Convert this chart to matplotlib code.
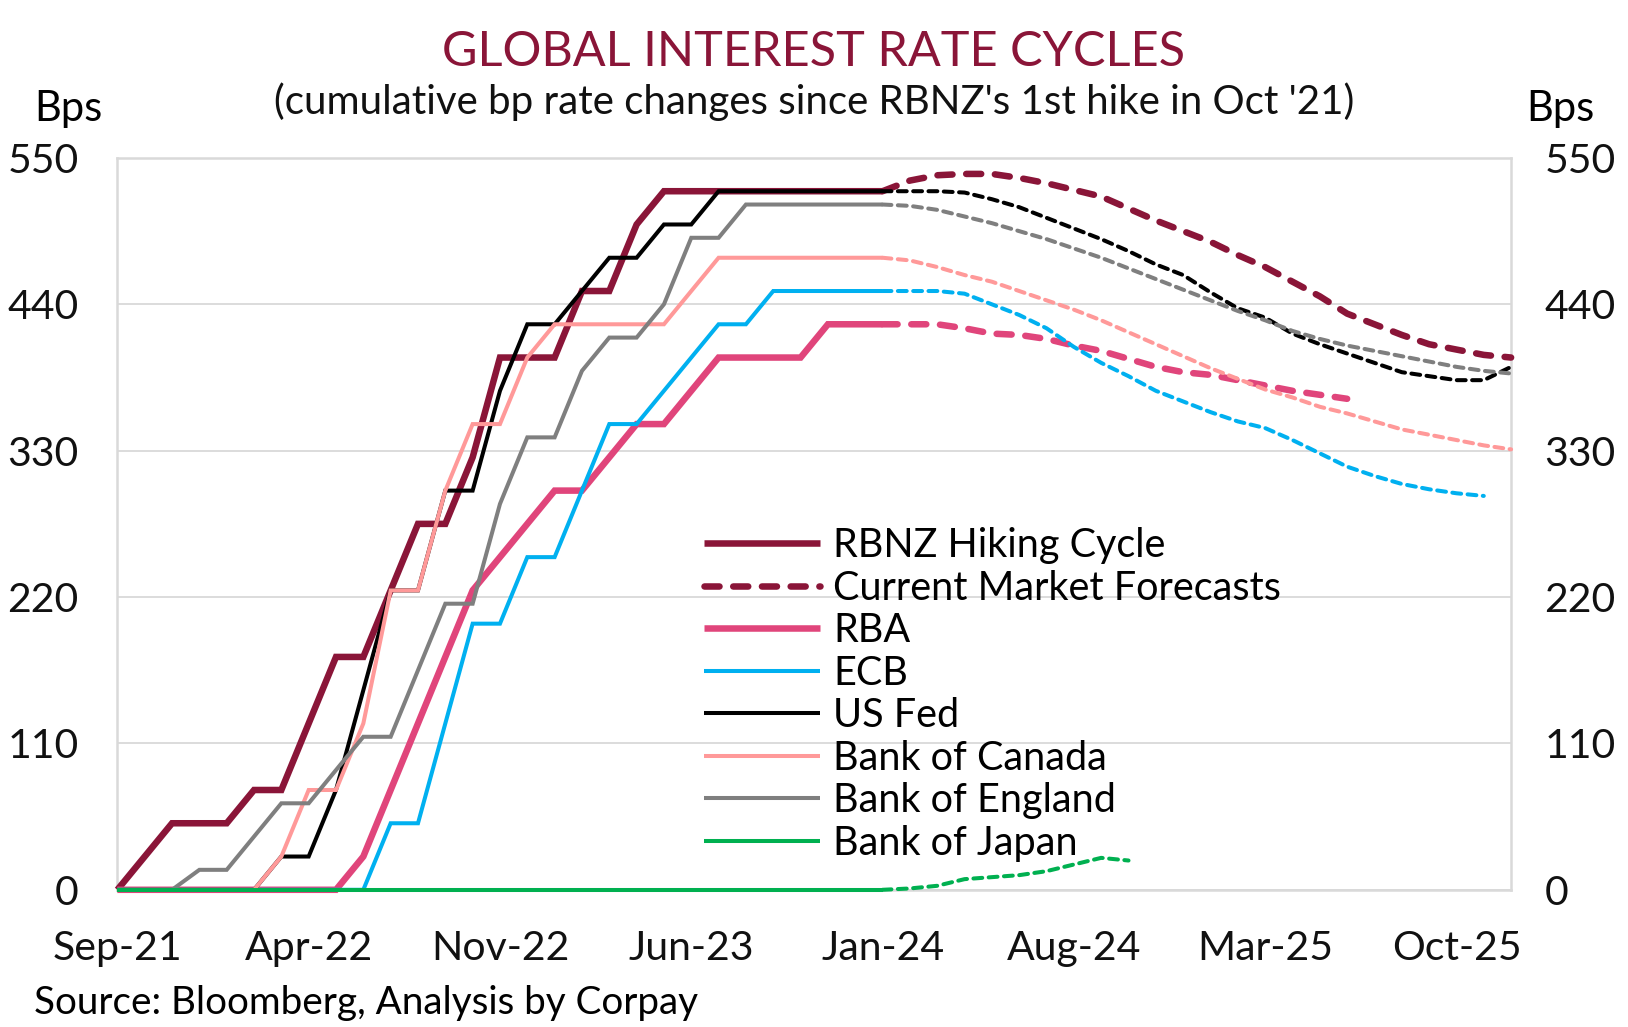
import matplotlib
matplotlib.use("Agg")
import matplotlib.pyplot as plt
import numpy as np

plt.rcParams['font.family'] = ['Lato', 'DejaVu Sans']

# month index 0 = Sep-21 ... 51 = Dec-25
tick_pos = [0, 7, 14, 21, 28, 35, 42, 49]
tick_labels = ['Sep-21', 'Apr-22', 'Nov-22', 'Jun-23', 'Jan-24', 'Aug-24', 'Mar-25', 'Oct-25']

# actual cumulative changes, Sep-21 .. Jan-24 (29 months)
rbnz = [0, 25, 50, 50, 50, 75, 75, 125, 175, 175, 225, 275, 275, 325, 400, 400, 400,
        450, 450, 500, 525, 525, 525, 525, 525, 525, 525, 525, 525]
rba = [0, 0, 0, 0, 0, 0, 0, 0, 0, 25, 75, 125, 175, 225, 250, 275, 300, 300, 325,
       350, 350, 375, 400, 400, 400, 400, 425, 425, 425]
ecb = [0, 0, 0, 0, 0, 0, 0, 0, 0, 0, 50, 50, 125, 200, 200, 250, 250, 300, 350,
       350, 375, 400, 425, 425, 450, 450, 450, 450, 450]
fed = [0, 0, 0, 0, 0, 0, 25, 25, 75, 150, 225, 225, 300, 300, 375, 425, 425, 450,
       475, 475, 500, 500, 525, 525, 525, 525, 525, 525, 525]
boc = [0, 0, 0, 0, 0, 0, 25, 75, 75, 125, 225, 225, 300, 350, 350, 400, 425, 425,
       425, 425, 425, 450, 475, 475, 475, 475, 475, 475, 475]
boe = [0, 0, 0, 15, 15, 40, 65, 65, 90, 115, 115, 165, 215, 215, 290, 340, 340,
       390, 415, 415, 440, 490, 490, 515, 515, 515, 515, 515, 515]
boj = [0] * 29

# market forecasts from Jan-24 (month 28) onwards
rbnz_fc = [525, 533, 537, 538, 538, 535, 531, 526, 521, 512, 503, 495, 487, 477,
           468, 457, 446, 433, 425, 417, 410, 406, 402, 400]
rba_fc = [425, 425, 425, 422, 418, 417, 414, 409, 405, 399, 393, 389, 387, 383,
          379, 375, 372, 369]
ecb_fc = [450, 450, 450, 448, 440, 432, 422, 408, 396, 386, 375, 367, 359, 352,
          347, 338, 328, 318, 311, 305, 301, 298, 296]
fed_fc = [525, 525, 525, 524, 519, 513, 505, 497, 489, 480, 470, 462, 449, 437,
          430, 418, 410, 403, 396, 389, 386, 383, 383, 393]
boc_fc = [475, 473, 468, 462, 457, 450, 443, 436, 428, 419, 410, 401, 392, 384,
          376, 370, 363, 358, 352, 346, 342, 338, 334, 331]
boe_fc = [515, 514, 511, 506, 501, 495, 489, 482, 475, 467, 459, 451, 443, 435,
          428, 420, 414, 409, 405, 401, 397, 393, 390, 388]
boj_fc = [0, 1, 3, 8, 9.5, 11, 14, 19, 24, 22]

c_rbnz = '#8A1538'
c_rba = '#E0457B'
c_ecb = '#00B0F0'
c_fed = '#000000'
c_boc = '#FF9999'
c_boe = '#7F7F7F'
c_boj = '#00B050'

fig = plt.figure(figsize=(16.28, 10.27), dpi=100)
ax = fig.add_axes([0.0721, 0.1336, 0.8561, 0.7126])

thick = 4.7
thin = 2.9
start = 28

series = [
    (rbnz, rbnz_fc, c_rbnz, thick, 'RBNZ Hiking Cycle'),
    (rba, rba_fc, c_rba, thick, 'RBA'),
    (ecb, ecb_fc, c_ecb, thin, 'ECB'),
    (fed, fed_fc, c_fed, thin, 'US Fed'),
    (boc, boc_fc, c_boc, thin, 'Bank of Canada'),
    (boe, boe_fc, c_boe, thin, 'Bank of England'),
    (boj, boj_fc, c_boj, thin, 'Bank of Japan'),
]

handles = {}
for actual, fc, col, lw, name in series:
    h, = ax.plot(np.arange(len(actual)), actual, color=col, lw=lw, clip_on=False,
                 solid_joinstyle='miter', solid_capstyle='butt')
    handles[name] = h
    if lw == thick:
        dash = (0, (2.3, 2.1))
    else:
        dash = (0, (2.2, 1.6))
    d, = ax.plot(np.arange(start, start + len(fc)), fc, color=col, lw=lw, clip_on=False,
                 linestyle=dash, dash_capstyle='round')
    if name == 'RBNZ Hiking Cycle':
        handles['Current Market Forecasts'] = d

order = ['RBNZ Hiking Cycle', 'Current Market Forecasts', 'RBA', 'ECB', 'US Fed',
         'Bank of Canada', 'Bank of England', 'Bank of Japan']
leg = ax.legend([handles[k] for k in order], order, loc='upper left',
                bbox_to_anchor=(704 / 1628, 1 - 527 / 1027), bbox_transform=fig.transFigure,
                frameon=False, fontsize=28.5, handlelength=2.93, handletextpad=0.34,
                labelspacing=0.14, borderpad=0, borderaxespad=0)

ax.set_xlim(0, 51)
ax.set_ylim(0, 550)
ax.set_xticks(tick_pos)
ax.set_xticklabels(tick_labels)
ax.set_yticks(np.arange(0, 551, 110))
ax.grid(axis='y', color='#D9D9D9', lw=1.3)
ax.set_axisbelow(True)
for s in ax.spines.values():
    s.set_color('#D9D9D9')
    s.set_linewidth(1.8)
    s.set_zorder(0.5)
ax.tick_params(axis='both', length=0, labelsize=29.5, colors='#111111')
ax.tick_params(axis='y', pad=28)
ax.tick_params(axis='x', pad=29)

ax2 = ax.twinx()
ax2.set_ylim(0, 550)
ax2.set_yticks(np.arange(0, 551, 110))
ax2.tick_params(axis='y', length=0, labelsize=29.5, colors='#111111', pad=24)
for s in ax2.spines.values():
    s.set_visible(False)
ax2.set_zorder(-1)
ax.patch.set_visible(False)

fig.text(0.5, 1 - 52 / 1027, 'GLOBAL INTEREST RATE CYCLES', ha='center', va='center',
         fontsize=35, color=c_rbnz)
fig.text(0.5, 1 - 102 / 1027, "(cumulative bp rate changes since RBNZ's 1st hike in Oct '21)",
         ha='center', va='center', fontsize=29, color='#111111')
fig.text(68 / 1628, 1 - 109 / 1027, 'Bps', ha='center', va='center', fontsize=30)
fig.text(1560 / 1628, 1 - 109 / 1027, 'Bps', ha='center', va='center', fontsize=30)
fig.text(34 / 1628, 1 - 1003 / 1027, 'Source: Bloomberg, Analysis by Corpay', ha='left',
         va='center', fontsize=27.8)

fig.savefig('out.png', dpi=100)
